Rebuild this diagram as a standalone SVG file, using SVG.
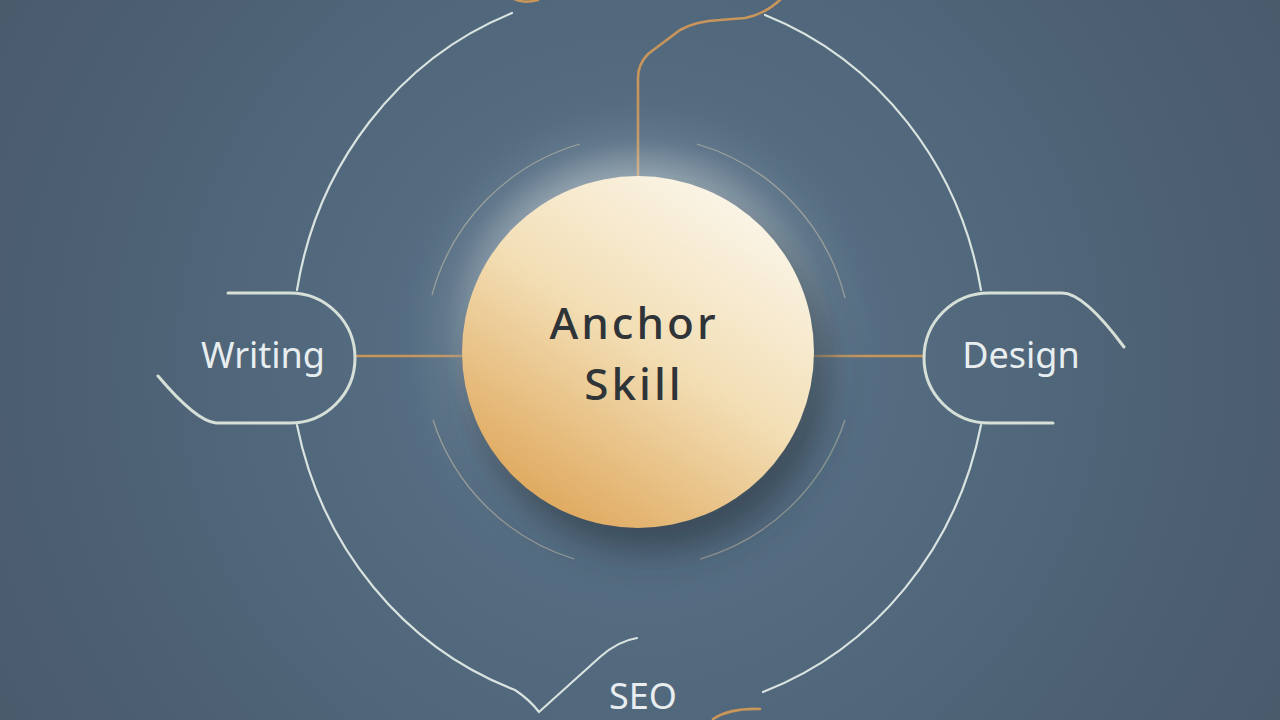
<svg xmlns="http://www.w3.org/2000/svg" width="1280" height="720" viewBox="0 0 1280 720">
  <defs>
    <radialGradient id="bg" cx="640" cy="360" r="760" gradientUnits="userSpaceOnUse">
      <stop offset="0" stop-color="#5a738b"/>
      <stop offset="0.5" stop-color="#51677b"/>
      <stop offset="1" stop-color="#48596a"/>
    </radialGradient>
    <radialGradient id="halo" cx="638" cy="335" r="250" gradientUnits="userSpaceOnUse">
      <stop offset="0.62" stop-color="#eef3ef" stop-opacity="0.5"/>
      <stop offset="0.78" stop-color="#b3c4ca" stop-opacity="0.14"/>
      <stop offset="0.92" stop-color="#8aa0ae" stop-opacity="0.03"/>
      <stop offset="1" stop-color="#7d95a6" stop-opacity="0"/>
    </radialGradient>
    <linearGradient id="ball" x1="0.78" y1="0.08" x2="0.22" y2="0.95">
      <stop offset="0" stop-color="#faf4e6"/>
      <stop offset="0.45" stop-color="#f3dfb6"/>
      <stop offset="1" stop-color="#dfa85d"/>
    </linearGradient>
    <linearGradient id="fadeUp" x1="0" y1="1" x2="0" y2="0">
      <stop offset="0" stop-color="#c8955a"/>
      <stop offset="1" stop-color="#c8955a" stop-opacity="0.3"/>
    </linearGradient>
    <filter id="blur" x="-50%" y="-50%" width="200%" height="200%">
      <feGaussianBlur stdDeviation="18"/>
    </filter>
  </defs>
  <style>
    .ring { fill: none; stroke: #d9e3e0; stroke-width: 2.2; stroke-linecap: round; }
    .node { fill: none; stroke: #d6e0d8; stroke-width: 3; stroke-linecap: round; stroke-linejoin: round; }
    .inner { fill: none; stroke: #cfc7aa; stroke-width: 1.3; opacity: 0.55; }
    .gold { fill: none; stroke: #c8955a; stroke-width: 2.6; stroke-linecap: round; stroke-linejoin: round; }
    .label { font-family: "Noto Sans", "Open Sans", sans-serif; font-size: 36px; fill: #e8eef0; text-anchor: middle; }
    .center { font-family: "Noto Sans", "Open Sans", sans-serif; font-size: 44px; fill: #2f3438; text-anchor: middle; letter-spacing: 3px; font-weight: 500; }
  </style>

  <rect width="1280" height="720" fill="url(#bg)"/>

  <!-- outer ring and inner arcs -->
  <g id="rings">
    <path class="ring" d="M 297 290 A 343 362 0 0 1 512 13"/>
    <path class="ring" d="M 765 15 A 343 362 0 0 1 981 290"/>
    <path class="ring" d="M 981 425 A 343 362 0 0 1 763 692"/>
    <path class="ring" d="M 297 425 A 343 362 0 0 0 515 690 Q 530 700 539 712 L 600 657 Q 618 641 637 638"/>
    <path class="inner" d="M 432 295 A 215 215 0 0 1 580 144"/>
    <path class="inner" d="M 697 144 A 215 215 0 0 1 845 298"/>
    <path class="inner" d="M 845 420 A 215 215 0 0 1 700 559"/>
    <path class="inner" d="M 574 559 A 215 215 0 0 1 433 420"/>
  </g>

  <!-- connectors -->
  <g id="connectors">
    <line class="gold" x1="356" y1="356" x2="466" y2="356" stroke-width="2.4"/>
    <line class="gold" x1="810" y1="356" x2="924" y2="356" stroke-width="2.4"/>
    <path class="gold" d="M 638 178 V 78 Q 638 64 648 54 L 680 30 Q 696 21 720 20 L 745 18 Q 766 14 782 -2"/>
    <line x1="637" y1="532" x2="637" y2="638" stroke="url(#fadeUp)" stroke-width="2.4"/>
    <path class="gold" d="M 512 -2 Q 522 4 538 0"/>
    <path class="gold" d="M 713 719 Q 730 708 760 709" stroke-width="3"/>
  </g>

  <!-- central node -->
  <g id="anchor-skill">
    <circle cx="638" cy="335" r="250" fill="url(#halo)"/>
    <circle cx="650" cy="374" r="178" fill="#1f2a36" opacity="0.6" filter="url(#blur)"/>
    <circle cx="638" cy="352" r="176" fill="url(#ball)"/>
    <text class="center" x="634" y="339">Anchor</text>
    <text class="center" x="634" y="400">Skill</text>
  </g>

  <g id="writing">
    <path class="node" d="M 228 293 H 290 A 65 65 0 0 1 290 423 H 216 Q 196 421 158 376"/>
    <text class="label" x="263" y="368">Writing</text>
  </g>

  <g id="design">
    <path class="node" d="M 1053 423 H 989 A 65 65 0 0 1 989 293 H 1062 Q 1084 293 1124 347"/>
    <text class="label" x="1021" y="368">Design</text>
  </g>

  <g id="seo">
    <text class="label" x="643" y="709" font-size="34">SEO</text>
  </g>
</svg>
